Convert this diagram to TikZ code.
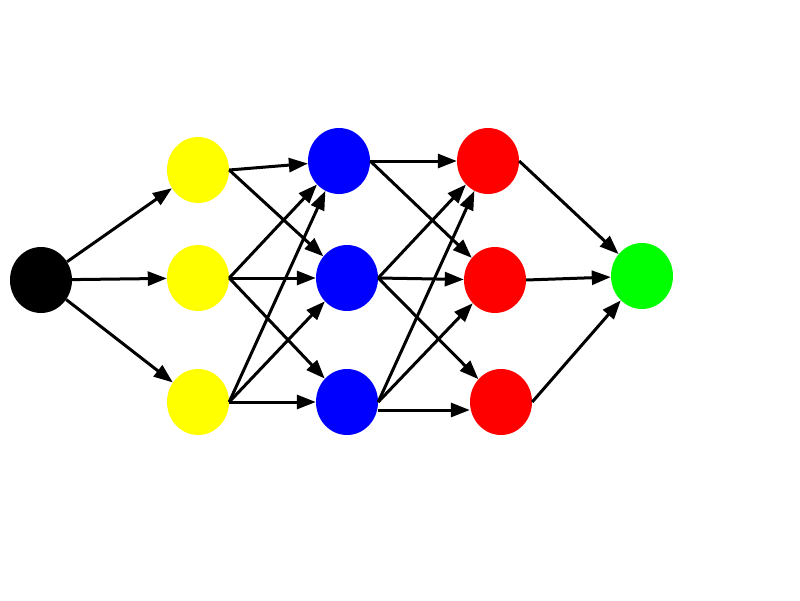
\documentclass[tikz,border=0pt]{standalone}
\usepackage{tikz}
\usetikzlibrary{shapes.geometric}
\usetikzlibrary{arrows.meta}
\tikzset{>={Triangle[width=14pt,length=19pt]}}
\definecolor{layerA}{RGB}{255,255,0}
\definecolor{layerB}{RGB}{0,0,255}
\definecolor{layerC}{RGB}{255,0,0}
\definecolor{outgreen}{RGB}{0,255,0}

\begin{document}
\begin{tikzpicture}[x=1pt, y=-1pt, neuron/.style={ellipse, draw=none, minimum width=62pt, minimum height=66pt, inner sep=0pt}, inputnode/.style={neuron, fill=black}, hiddenA/.style={neuron, fill=layerA}, hiddenB/.style={neuron, fill=layerB}, hiddenC/.style={neuron, fill=layerC}, outputnode/.style={neuron, fill=outgreen}, conn/.style={->, line width=3pt}]

    \useasboundingbox (0,0) rectangle (800,600);

    %Nodes
    \node[inputnode](in) at (41,280){};
    \node[hiddenA](y1) at (198,170){};
    \node[hiddenA](y2) at (198,278){};
    \node[hiddenA](y3) at (198,402){};
    \node[hiddenB](b1) at (339,161){};
    \node[hiddenB](b2) at (347,278){};
    \node[hiddenB](b3) at (347,402){};
    \node[hiddenC](r1) at (488,161){};
    \node[hiddenC](r2) at (495,280){};
    \node[hiddenC](r3) at (501,402){};
    \node[outputnode](out) at (642,276){};

    %Lines
    \draw[conn] (in) -- (y1);
    \draw[conn] (in) -- (y2);
    \draw[conn] (in) -- (y3);
    \draw[conn] (y1.east) -- (b1);
    \draw[conn] (y1.east) -- (b2);
    \draw[conn] (y2.east) -- (b1);
    \draw[conn] (y2.east) -- (b2);
    \draw[conn] (y2.east) -- (b3);
    \draw[conn] (y3.east) -- (b1);
    \draw[conn] (y3.east) -- (b2);
    \draw[conn] (y3.east) -- (b3);
    \draw[conn] (b1.east) -- (r1);
    \draw[conn] (b1.east) -- (r2);
    \draw[conn] (b2.east) -- (r1);
    \draw[conn] (b2.east) -- (r2);
    \draw[conn] (b2.east) -- (r3);
    \draw[conn] (b3.east) -- (r1);
    \draw[conn] (b3.east) -- (r2);
    \draw[conn] ([yshift=-8pt]b3.east) -- ([yshift=-8pt]r3.west);
    \draw[conn] (r1.east) -- (out);
    \draw[conn] (r2.east) -- (out);
    \draw[conn] (r3.east) -- (out);

\end{tikzpicture}
\end{document}
